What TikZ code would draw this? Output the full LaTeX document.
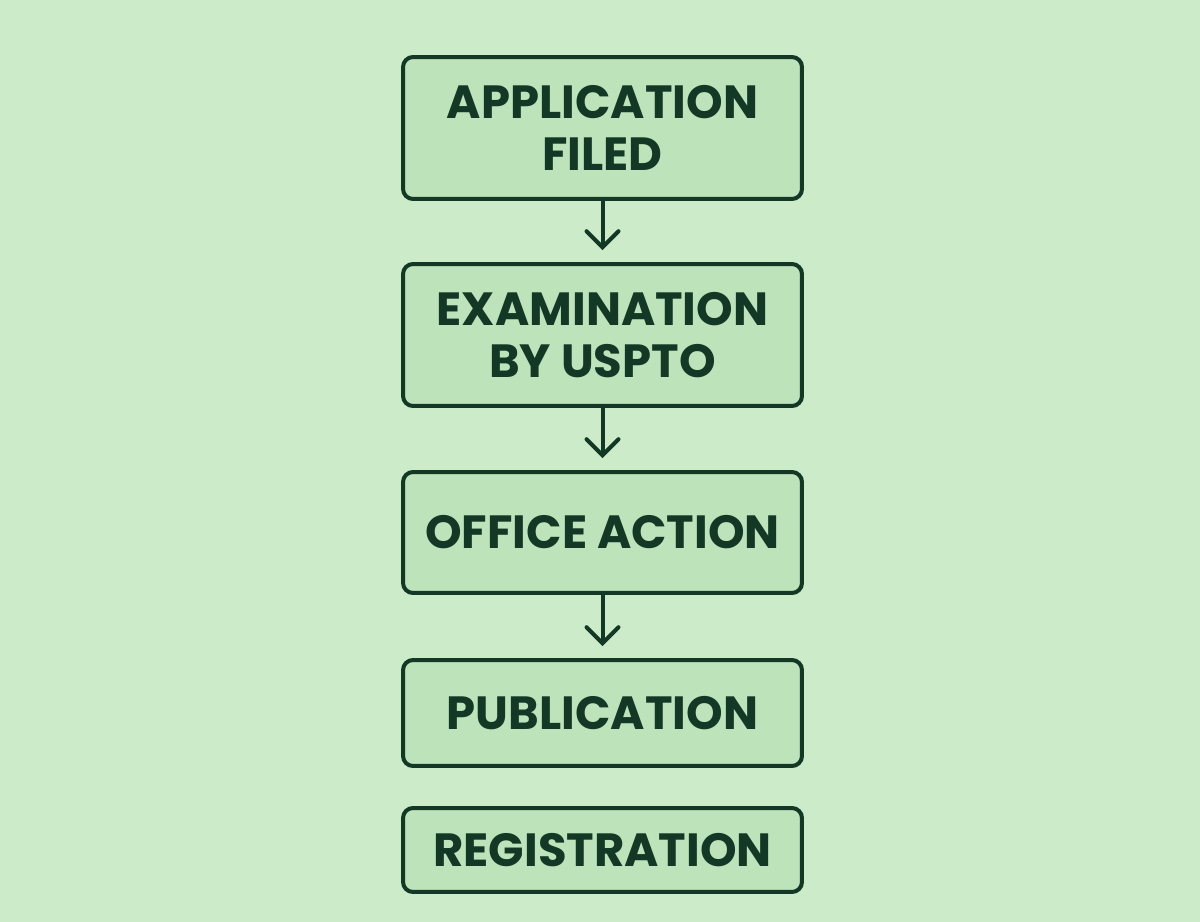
\documentclass[tikz,border=0pt]{standalone}
\usepackage{fontspec}
\setmainfont{Poppins}
\usepackage{xcolor}
\usepackage{tikz}
\usetikzlibrary{arrows.meta,positioning}
\definecolor{MintBg}{HTML}{CCEBC8}
\definecolor{MintBox}{HTML}{BDE3BA}
\definecolor{ForestInk}{HTML}{143826}

\tikzset{
  stagebox/.style={draw=ForestInk,fill=MintBox,line width=0.08cm,rounded corners=0.2cm,
    minimum width=7.98cm,align=center,text=ForestInk,
    font=\bfseries\fontsize{26.5}{29.6}\selectfont},
  flowarrow/.style={draw=ForestInk,line width=0.08cm,shorten >=0.24cm,
    -{Straight Barb[length=0.32cm,width=0.64cm,line cap=round]}}
}

\begin{document}
\begin{tikzpicture}[x=0.02cm,y=-0.02cm]
  \fill[MintBg] (0,0) rectangle (1200,922);
  % stages of the trademark process
  \node[stagebox,minimum height=2.84cm] (filed) at (602.5,128) {APPLICATION\\FILED};
  \node[stagebox,minimum height=2.84cm] (exam) at (602.5,335) {EXAMINATION\\BY USPTO};
  \node[stagebox,minimum height=2.42cm] (action) at (602.5,532.5) {OFFICE ACTION};
  \node[stagebox,minimum height=2.12cm] (publish) at (602.5,713) {PUBLICATION};
  \node[stagebox,minimum height=1.68cm] (register) at (602.5,850) {REGISTRATION};
  % connectors
  \draw[flowarrow] (filed) -- (exam);
  \draw[flowarrow] (exam) -- (action);
  \draw[flowarrow] (action) -- (publish);
\end{tikzpicture}
\end{document}
